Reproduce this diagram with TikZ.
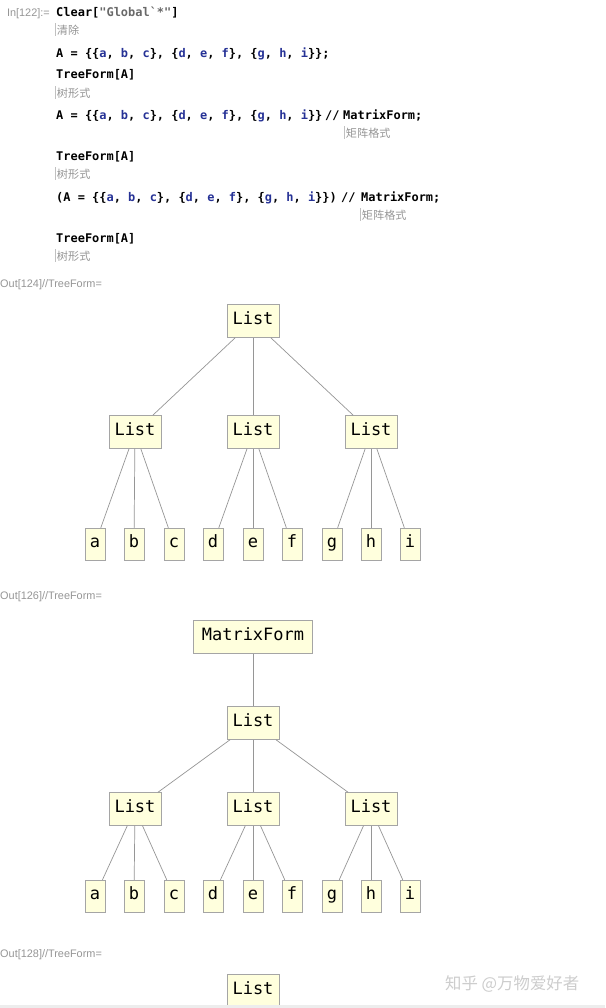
\documentclass[tikz,border=0pt]{standalone}
\usepackage{fontspec}
\setmainfont{Liberation Sans}
\newfontfamily\codefont[Ligatures=TeXOff]{DejaVu Sans Mono}
\newfontfamily\cjkfont{Noto Sans CJK SC}

\definecolor{boxfill}{RGB}{255,255,221}
\definecolor{boxline}{RGB}{165,165,165}
\definecolor{linkgray}{RGB}{150,150,150}
\definecolor{symblue}{RGB}{38,50,150}
\definecolor{strgray}{RGB}{105,105,105}
\definecolor{hintgray}{RGB}{150,150,150}
\definecolor{markgray}{RGB}{205,205,205}

\newcommand\cvar[1]{\textcolor{symblue}{#1}}
\newcommand\matA{\{\{\cvar{a}, \cvar{b}, \cvar{c}\}, \{\cvar{d}, \cvar{e}, \cvar{f}\}, \{\cvar{g}, \cvar{h}, \cvar{i}\}\}}

\tikzset{
  treebox/.style={draw=boxline, fill=boxfill, inner sep=0pt, text height=0.72em, text depth=0.2em,
    font=\codefont\fontsize{14.5}{16}\selectfont, minimum height=0.99cm},
  headbox/.style={treebox, minimum width=1.56cm},
  leafbox/.style={treebox, minimum width=0.6cm, minimum height=0.96cm},
  link/.style={draw=linkgray, line width=0.6pt},
  codeline/.style={anchor=base west, inner sep=0pt, font=\codefont\bfseries\fontsize{10.2}{12}\selectfont},
  hint/.style={anchor=base west, inner xsep=1.5pt, inner ysep=1pt, text=hintgray, font=\cjkfont\fontsize{9.5}{11}\selectfont},
  hintbar/.style={draw=hintgray!60, line width=0.4pt},
  cellmark/.style={inner sep=0pt, text=hintgray, font=\fontsize{9.3}{11}\selectfont},
}

\begin{document}
\begin{tikzpicture}[x=0.03cm, y=-0.03cm]
\fill[white] (0,0) rectangle (605,1008);
\useasboundingbox (0,0) rectangle (605,1008);

% input cell
\node[cellmark, anchor=base east] (inlbl) at (50,16) {In[122]:=};
\node[codeline] (c1) at (56,16) {Clear[\textcolor{strgray}{"Global`*"}]};
\node[hint] (h1) at (55,34) {清除};
\node[codeline] (c2) at (56,57) {A = \matA;};
\node[codeline] (c3) at (56,78) {TreeForm[A]};
\node[hint] (h2) at (55,97) {树形式};
\node[codeline] (c4) at (56,119) {A = \matA};
\node[codeline] (c4s) at (325,119) {//};
\node[codeline] (c4m) at (343,119) {MatrixForm;};
\node[hint] (h3) at (344,137) {矩阵格式};
\node[codeline] (c5) at (56,160) {TreeForm[A]};
\node[hint] (h4) at (55,178) {树形式};
\node[codeline] (c6) at (56,201) {(A = \matA)};
\node[codeline] (c6s) at (341,201) {//};
\node[codeline] (c6m) at (361,201) {MatrixForm;};
\node[hint] (h5) at (360,219) {矩阵格式};
\node[codeline] (c7) at (56,242) {TreeForm[A]};
\node[hint] (h6) at (55,260) {树形式};
\draw[hintbar] (h1.north west) -- (h1.south west);
\draw[hintbar] (h2.north west) -- (h2.south west);
\draw[hintbar] (h3.north west) -- (h3.south west);
\draw[hintbar] (h4.north west) -- (h4.south west);
\draw[hintbar] (h5.north west) -- (h5.south west);
\draw[hintbar] (h6.north west) -- (h6.south west);

% first tree
\node[cellmark, anchor=base west] (out1) at (0,287) {Out[124]//TreeForm=};
\node[headbox] (t1) at (253,321) {List};
\node[headbox] (t1a) at (135,432) {List};
\node[headbox] (t1b) at (253,432) {List};
\node[headbox] (t1c) at (371,432) {List};
\node[leafbox] (t1a1) at (95,544) {a};
\node[leafbox] (t1a2) at (134,544) {b};
\node[leafbox] (t1a3) at (174,544) {c};
\node[leafbox] (t1b1) at (213,544) {d};
\node[leafbox] (t1b2) at (253,544) {e};
\node[leafbox] (t1b3) at (292,544) {f};
\node[leafbox] (t1c1) at (332,544) {g};
\node[leafbox] (t1c2) at (371,544) {h};
\node[leafbox] (t1c3) at (410,544) {i};
\draw[link] (t1) -- (t1a);
\draw[link] (t1) -- (t1b);
\draw[link] (t1) -- (t1c);
\draw[link] (t1a) -- (t1a1);
\draw[link] (t1a) -- (t1a2);
\draw[link] (t1a) -- (t1a3);
\draw[link] (t1b) -- (t1b1);
\draw[link] (t1b) -- (t1b2);
\draw[link] (t1b) -- (t1b3);
\draw[link] (t1c) -- (t1c1);
\draw[link] (t1c) -- (t1c2);
\draw[link] (t1c) -- (t1c3);

% second tree
\node[cellmark, anchor=base west] (out2) at (0,599) {Out[126]//TreeForm=};
\node[treebox, minimum width=3.57cm] (t2m) at (253,637) {MatrixForm};
\node[headbox] (t2) at (253,723) {List};
\node[headbox] (t2a) at (135,809) {List};
\node[headbox] (t2b) at (253,809) {List};
\node[headbox] (t2c) at (371,809) {List};
\node[leafbox] (t2a1) at (95,896) {a};
\node[leafbox] (t2a2) at (134,896) {b};
\node[leafbox] (t2a3) at (174,896) {c};
\node[leafbox] (t2b1) at (213,896) {d};
\node[leafbox] (t2b2) at (253,896) {e};
\node[leafbox] (t2b3) at (292,896) {f};
\node[leafbox] (t2c1) at (332,896) {g};
\node[leafbox] (t2c2) at (371,896) {h};
\node[leafbox] (t2c3) at (410,896) {i};
\draw[link] (t2m) -- (t2);
\draw[link] (t2) -- (t2a);
\draw[link] (t2) -- (t2b);
\draw[link] (t2) -- (t2c);
\draw[link] (t2a) -- (t2a1);
\draw[link] (t2a) -- (t2a2);
\draw[link] (t2a) -- (t2a3);
\draw[link] (t2b) -- (t2b1);
\draw[link] (t2b) -- (t2b2);
\draw[link] (t2b) -- (t2b3);
\draw[link] (t2c) -- (t2c1);
\draw[link] (t2c) -- (t2c2);
\draw[link] (t2c) -- (t2c3);

% third tree, cut off at the bottom
\node[cellmark, anchor=base west] (out3) at (0,957) {Out[128]//TreeForm=};
\node[headbox] (t3) at (253,991) {List};
\node[anchor=base west, inner sep=0pt, text=markgray, font=\cjkfont\fontsize{14}{16}\selectfont] (mark) at (445,989) {知乎 @万物爱好者};
\fill[black!7] (0,1005) rectangle (605,1008);
\end{tikzpicture}
\end{document}
